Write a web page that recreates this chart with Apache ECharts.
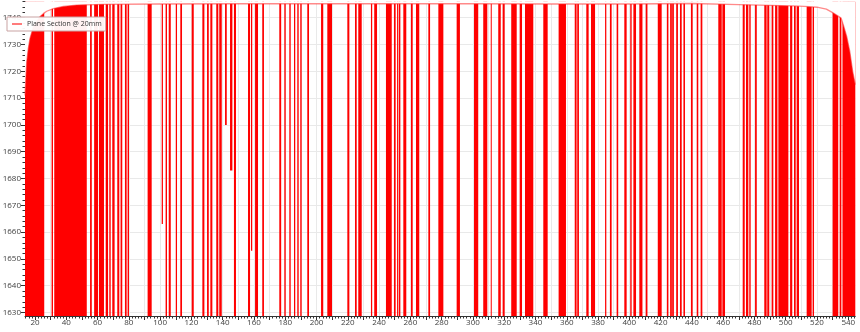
<!DOCTYPE html>
<html>
<head>
<meta charset="utf-8">
<script src="https://cdn.jsdelivr.net/npm/echarts@6/dist/echarts.min.js"></script>
<style>
html,body{margin:0;padding:0;background:#fff;}
#chart{width:860px;height:332px;}
</style>
</head>
<body>
<div id="chart"></div>
<script>
// ---- data ----
const seriesName = 'Plane Section @ 20mm';

// top envelope of the profile (x in mm, height)
const envX = [13.6, 14.2, 14.7, 15.7, 16.8, 18.9, 21.1, 23.2, 25.5, 27.5, 31.7, 38.1, 46.7, 63.7,
  100, 150, 200, 250, 300, 350, 400, 440, 470, 490, 505, 515, 520, 526, 530, 532.5,
  535.4, 537, 539, 541, 542.8, 544.5];
const envY = [1711, 1718, 1723.5, 1728.5, 1732.3, 1736.5, 1738.6, 1740.4, 1741.6, 1742.4, 1743.4, 1744.2, 1744.7, 1745.0,
  1745.1, 1745.2, 1745.2, 1745.2, 1745.2, 1745.1, 1745.1, 1745.3, 1744.9, 1744.6, 1744.4, 1744.1, 1743.9, 1743.2, 1741.9, 1741.0,
  1739.9, 1737, 1733, 1727.3, 1720, 1715];

// intervals where the signal drops down (start, end, lowest value)
const dropStart = [13.6, 30.6, 32.3, 55.2, 57.8, 60.9, 65.2, 67.5, 69.4, 72.6, 74.7, 77.5, 79.2,
  92.0, 101.0, 103.5, 105.5, 110.0, 112.9, 120.2, 127.0, 130.0, 132.1, 135.9, 137.8, 141.5, 144.7,
  147.2, 156.2, 158.1, 160.7, 165.3, 176.2, 179.4, 182.6, 185.6, 187.7, 189.6, 194.1, 202.9, 206.9, 219.7,
  224.6, 226.7, 234.8, 236.9, 244.4, 249.5, 251.5, 252.7, 255.5, 260.4, 263.6, 271.5, 277.9, 289.6, 300.7,
  306.6, 311.4, 316.2, 319.0, 324.5, 329.9, 333.3, 345.0, 354.8, 365.1, 366.7, 372.5, 375.5,
  384.5, 387.6, 391.9, 396.8, 400.6, 402.6, 406.4, 410.5, 418.2, 424.0, 426.1, 427.4, 430.0, 432.4, 434.6,
  439.4, 443.1, 445.6, 456.9, 459.5,
  472.5, 474.6, 476.7, 480.4, 486.3, 488.2, 491.0, 493.2, 495.3, 502.8, 505.3, 507.0, 513.4, 517.2,
  530.0, 534.5, 536.3];
const dropEnd = [25.9, 31.5, 53.1, 56.3, 60.3, 64.1, 66.7, 68.4, 70.9, 73.9, 75.8, 78.6, 80.1,
  94.6, 101.8, 104.4, 106.8, 110.8, 114.0, 121.5, 128.3, 131.1, 133.4, 137.2, 139.4, 142.6, 146.2,
  148.5, 157.5, 158.9, 162.6, 166.4, 177.4, 180.3, 183.5, 186.4, 188.6, 190.5, 195.2, 204.3, 209.9, 221.0,
  225.7, 228.9, 235.6, 238.7, 248.1, 250.6, 252.3, 253.6, 257.4, 261.5, 265.7, 272.6, 281.1, 291.7, 303.4,
  309.2, 312.0, 317.8, 320.3, 328.0, 331.4, 338.6, 347.8, 359.5, 366.3, 367.8, 374.0, 378.1,
  385.3, 388.7, 392.9, 398.3, 401.5, 404.3, 408.4, 411.6, 420.7, 425.0, 427.2, 428.5, 431.1, 433.5, 435.6,
  440.5, 444.1, 446.7, 459.1, 461.2,
  473.8, 476.1, 477.6, 481.5, 487.8, 489.5, 492.1, 494.7, 501.7, 504.2, 506.4, 508.5, 516.6, 518.1,
  533.6, 535.6, 544.5];
const dropLow = [1620, 1620, 1620, 1620, 1620, 1620, 1620, 1620, 1620, 1620, 1620, 1620, 1620,
  1620, 1663, 1620, 1620, 1620, 1620, 1620, 1620, 1620, 1620, 1620, 1620, 1700, 1683,
  1620, 1620, 1653, 1620, 1620, 1620, 1620, 1620, 1620, 1620, 1620, 1620, 1620, 1620, 1620,
  1620, 1620, 1620, 1620, 1620, 1620, 1620, 1620, 1620, 1620, 1620, 1620, 1620, 1620, 1620,
  1620, 1620, 1620, 1620, 1620, 1620, 1620, 1620, 1620, 1620, 1620, 1620, 1620,
  1620, 1620, 1620, 1620, 1620, 1620, 1620, 1620, 1620, 1620, 1620, 1620, 1620, 1620, 1620,
  1620, 1620, 1620, 1620, 1620,
  1620, 1620, 1620, 1620, 1620, 1620, 1620, 1620, 1620, 1620, 1620, 1620, 1620, 1620,
  1620, 1620, 1620];

// tick labels
const xTickLabels = [20, 40, 60, 80, 100, 120, 140, 160, 180, 200, 220, 240, 260, 280, 300,
  320, 340, 360, 380, 400, 420, 440, 460, 480, 500, 520, 540];
const xGridValues = [20, 30, 40, 50, 60, 70, 80, 90, 100, 110, 120, 130, 140, 150, 160, 170, 180, 190, 200,
  210, 220, 230, 240, 250, 260, 270, 280, 290, 300, 310, 320, 330, 340, 350, 360, 370, 380, 390, 400,
  410, 420, 430, 440, 450, 460, 470, 480, 490, 500, 510, 520, 530, 540];
const yTickLabels = [1630, 1640, 1650, 1660, 1670, 1680, 1690, 1700, 1710, 1720, 1730, 1740];

// ---- chart ----
const X_MIN = 13.6, X_MAX = 544.5, Y_MIN = 1628.7, Y_MAX = 1746;
const xMinor = [], yMinor = [];
for (let v = 14; v <= X_MAX; v += 2) xMinor.push(v);
for (let v = 1630; v <= Y_MAX; v += 2) yMinor.push(v);

const dropData = dropStart.map((s, i) => [s, dropEnd[i], dropLow[i]]);
const envData = envX.map((x, i) => [x, envY[i]]);

const font = 'Open Sans';
const axisColor = '#333';
const plain = v => String(v);

const chart = echarts.init(document.getElementById('chart'), null, {renderer: 'canvas'});
chart.setOption({
  animation: false,
  backgroundColor: '#fff',
  grid: {left: 25, right: 4.7, top: 1.6, bottom: 16, containLabel: false, outerBoundsMode: 'none', show: false},
  legend: {
    show: true,
    data: [{name: seriesName, icon: 'rect'}],
    left: 7, top: 17,
    orient: 'vertical',
    padding: [3, 4, 3, 5],
    itemWidth: 10, itemHeight: 2, itemGap: 4,
    itemStyle: {color: 'rgba(255,80,80,0.75)'},
    backgroundColor: 'rgba(255,255,255,0.95)',
    borderColor: '#c9a3a3', borderWidth: 1, borderRadius: 0,
    textStyle: {fontFamily: font, fontSize: 7, color: '#333', lineHeight: 8}
  },
  xAxis: [{
    type: 'value', min: X_MIN, max: X_MAX, position: 'bottom',
    axisLine: {show: true, onZero: false, lineStyle: {color: axisColor, width: 1}},
    axisTick: {show: true, inside: false, length: 4, customValues: xGridValues, lineStyle: {color: axisColor}},
    axisLabel: {show: true, customValues: xTickLabels, formatter: plain, margin: 3, fontFamily: font, fontSize: 8, color: '#404040'},
    splitLine: {show: true, lineStyle: {color: '#e9e9e9', width: 1}}
  }, {
    type: 'value', min: X_MIN, max: X_MAX, position: 'bottom', gridIndex: 0,
    axisLine: {show: false, onZero: false},
    axisTick: {show: true, inside: false, length: 2.5, customValues: xMinor, lineStyle: {color: axisColor}},
    axisLabel: {show: false},
    splitLine: {show: false}
  }],
  yAxis: [{
    type: 'value', min: Y_MIN, max: Y_MAX, position: 'left',
    axisLine: {show: true, onZero: false, lineStyle: {color: axisColor, width: 1}},
    axisTick: {show: true, inside: false, length: 4, customValues: yTickLabels, lineStyle: {color: axisColor}},
    axisLabel: {show: true, customValues: yTickLabels, formatter: plain, margin: 4, fontFamily: font, fontSize: 8, color: '#404040'},
    splitLine: {show: true, lineStyle: {color: '#e9e9e9', width: 1}}
  }, {
    type: 'value', min: Y_MIN, max: Y_MAX, position: 'left', gridIndex: 0,
    axisLine: {show: false, onZero: false},
    axisTick: {show: true, inside: false, length: 2.5, customValues: yMinor, lineStyle: {color: axisColor}},
    axisLabel: {show: false},
    splitLine: {show: false}
  }],
  series: [{
    type: 'custom',
    name: 'drops',
    xAxisIndex: 0, yAxisIndex: 0,
    clip: true,
    z: 2,
    encode: {x: [0, 1], y: 2},
    data: dropData,
    renderItem: function (params, api) {
      const p1 = api.coord([api.value(0), Y_MAX]);
      const p2 = api.coord([api.value(1), api.value(2)]);
      return {
        type: 'rect',
        shape: {x: p1[0], y: p1[1], width: Math.max(p2[0] - p1[0], 1), height: p2[1] - p1[1]},
        style: {fill: '#ff0000'}
      };
    }
  }, {
    type: 'line',
    name: seriesName,
    xAxisIndex: 0, yAxisIndex: 0,
    z: 3,
    data: envData,
    symbol: 'none',
    showSymbol: false,
    smooth: false,
    clip: true,
    itemStyle: {color: 'rgba(255,80,80,0.75)'},
    lineStyle: {color: 'rgba(255,40,40,0.55)', width: 1.3},
    areaStyle: {origin: 'end', color: '#ffffff', opacity: 1}
  }]
});
</script>
</body>
</html>
